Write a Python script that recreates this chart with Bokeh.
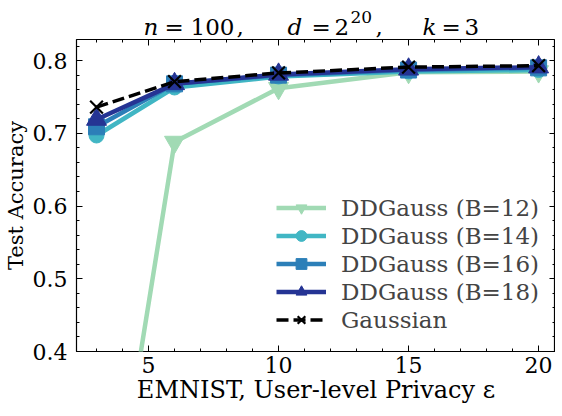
from bokeh.plotting import figure
from bokeh.layouts import column
from bokeh.models import Range1d, LinearAxis, Legend, LegendItem, FixedTicker, CustomJSTickFormatter
from bokeh.core.properties import value
from bokeh.embed import file_html
from bokeh.resources import INLINE

eps = [3, 6, 10, 15, 20]
acc_b12 = [0.02, 0.688, 0.762, 0.784, 0.785]
acc_b14 = [0.697, 0.763, 0.778, 0.785, 0.787]
acc_b16 = [0.709, 0.768, 0.780, 0.787, 0.790]
acc_b18 = [0.719, 0.768, 0.781, 0.788, 0.791]
acc_gauss = [0.736, 0.771, 0.783, 0.791, 0.793]

x_ticks = [5, 10, 15, 20]
y_ticks = [0.4, 0.5, 0.6, 0.7, 0.8]

FONT = "DejaVu Serif"
W = 555

# title strip (italic symbols, superscript exponent); its frame lines up with the plot frame
t = figure(width=W, height=39, output_backend="svg", toolbar_location=None,
           x_range=Range1d(76, 555), y_range=Range1d(39, 0),
           min_border=0, outline_line_color=None)
t.axis.visible = False
t.grid.visible = False
title_parts = ["n", "=", "100", ",", "d", "=", "2", "20", ",", "k", "=", "3"]
title_x = [143, 164, 190, 236, 287, 311, 334, 350, 375, 422, 441, 464]
title_y = [26, 26, 26, 26, 26, 26, 26, 16, 26, 26, 26, 26]
title_style = ["italic", "normal", "normal", "normal", "italic", "normal",
               "normal", "normal", "normal", "italic", "normal", "normal"]
title_size = ["23px"] * 7 + ["17px"] + ["23px"] * 4
t.text(x=title_x, y=title_y, text=title_parts, text_font=value(FONT),
       text_font_style=title_style, text_font_size=title_size,
       text_baseline="alphabetic", text_align="left", text_color="black")

p = figure(width=W, height=374, output_backend="svg", toolbar_location=None,
           x_range=Range1d(2.23, 20.65), y_range=Range1d(0.4, 0.829),
           min_border_left=74, min_border_right=0, min_border_top=0, min_border_bottom=62)
p.xgrid.visible = False
p.ygrid.visible = False
p.outline_line_color = "black"
p.outline_line_width = 1.2

bottom = p.below[0]
left = p.left[0]
bottom.axis_label = "EMNIST, User-level Privacy ε"
left.axis_label = "Test Accuracy"

top = LinearAxis()
right = LinearAxis()
p.add_layout(top, "above")
p.add_layout(right, "right")

for ax in (bottom, top):
    ax.ticker = FixedTicker(ticks=x_ticks, minor_ticks=list(range(3, 21)))
for ax in (left, right):
    ax.ticker = FixedTicker(ticks=y_ticks, minor_ticks=[round(0.4 + 0.02 * i, 2) for i in range(22)])

for ax in (bottom, top, left, right):
    ax.major_tick_in = 6
    ax.major_tick_out = 0
    ax.minor_tick_in = 3
    ax.minor_tick_out = 0
    ax.axis_line_color = None
    ax.major_tick_line_color = "black"
    ax.minor_tick_line_color = "black"
    ax.major_label_text_font = FONT
    ax.major_label_text_font_size = "22px"
    ax.major_label_text_color = "black"
    ax.axis_label_text_font = FONT
    ax.axis_label_text_font_style = "normal"
    ax.axis_label_text_color = "black"

bottom.axis_label_text_font_size = "24px"
left.axis_label_text_font_size = "21px"
bottom.major_label_standoff = 5
left.major_label_standoff = 9
bottom.axis_label_standoff = 0
left.axis_label_standoff = 2
for ax in (top, right):
    ax.formatter = CustomJSTickFormatter(code="return ''")
    ax.major_label_standoff = 0

series = [
    ("DDGauss (B=12)", acc_b12, "#a1dab4", "inverted_triangle", 20),
    ("DDGauss (B=14)", acc_b14, "#41b6c4", "circle", 15),
    ("DDGauss (B=16)", acc_b16, "#2c7fb8", "square", 16),
    ("DDGauss (B=18)", acc_b18, "#253494", "triangle", 20),
]

items = []
for name, vals, color, marker, size in series:
    r1 = p.line(eps, vals, line_color=color, line_width=4.5)
    r2 = p.scatter(eps, vals, marker=marker, size=size, fill_color=color, line_color=color)
    items.append(LegendItem(label=name, renderers=[r1, r2]))

g1 = p.line(eps, acc_gauss, line_color="black", line_width=3.5, line_dash="12 5")
g2 = p.scatter(eps, acc_gauss, marker="x", size=18, line_color="black", line_width=2.2)
items.append(LegendItem(label="Gaussian", renderers=[g1, g2]))

legend = Legend(items=items, location=(200, 18), padding=0, margin=0, spacing=1,
                glyph_width=50, glyph_height=27, label_standoff=15,
                label_text_font=FONT, label_text_font_size="23px",
                background_fill_alpha=0, border_line_color=None)
p.add_layout(legend, "center")

layout = column(t, p, spacing=0)
open("out.html", "w").write(file_html(layout, INLINE))
